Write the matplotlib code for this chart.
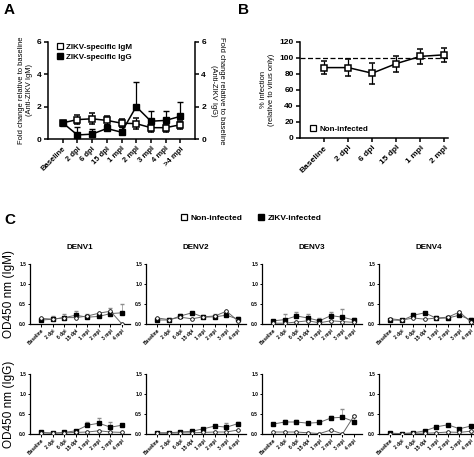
import matplotlib
matplotlib.use("Agg")
import matplotlib.pyplot as plt
from matplotlib.lines import Line2D
import numpy as np

plt.rcParams['font.family'] = ['Liberation Sans', 'DejaVu Sans']
plt.rcParams['font.weight'] = 'bold'
plt.rcParams['axes.linewidth'] = 1.1

# ---- panel A data
a_cats = ['Baseline', '2 dpi', '6 dpi', '15 dpi', '1 mpi', '2 mpi', '3 mpi', '4 mpi', '>4 mpi']
a_igm = [1.0, 1.2, 1.25, 1.15, 0.98, 0.95, 0.7, 0.7, 0.88]
a_igm_err = [0.0, 0.28, 0.35, 0.3, 0.25, 0.35, 0.25, 0.25, 0.25]
a_igg = [1.0, 0.25, 0.3, 0.65, 0.42, 2.0, 1.1, 1.15, 1.4]
a_igg_err = [0.0, 0.5, 0.3, 0.3, 0.3, 1.5, 0.65, 0.6, 0.9]

# ---- panel B data
b_cats = ['Baseline', '2 dpi', '6 dpi', '15 dpi', '1 mpi', '2 mpi']
b_vals = [88, 88, 81, 93, 102, 104]
b_err = [8, 11, 13, 10, 9, 9]

# ---- panel C data
c_cats = ['Baseline', '2 dpi', '6 dpi', '15 dpi', '1 mpi', '2 mpi', '3 mpi', '4 mpi']
c_titles = ['DENV1', 'DENV2', 'DENV3', 'DENV4']

igm_non = [
    [0.14, 0.12, 0.16, 0.16, 0.2, 0.27, 0.32, 0.0],
    [0.15, 0.11, 0.17, 0.13, 0.18, 0.2, 0.32, 0.08],
    [0.02, 0.02, 0.05, 0.08, 0.03, 0.08, 0.06, 0.04],
    [0.13, 0.1, 0.15, 0.12, 0.15, 0.17, 0.3, 0.05],
]
igm_zikv = [
    [0.1, 0.12, 0.16, 0.22, 0.17, 0.19, 0.26, 0.28],
    [0.1, 0.1, 0.2, 0.28, 0.17, 0.18, 0.22, 0.12],
    [0.08, 0.11, 0.2, 0.15, 0.08, 0.21, 0.17, 0.1],
    [0.1, 0.09, 0.22, 0.28, 0.14, 0.15, 0.22, 0.1],
]
igm_zikv_err = [
    [0.03, 0.08, 0.1, 0.1, 0.08, 0.08, 0.15, 0.22],
    [0.03, 0.05, 0.05, 0.02, 0.05, 0.08, 0.1, 0.05],
    [0.03, 0.14, 0.1, 0.1, 0.07, 0.09, 0.2, 0.05],
    [0.03, 0.03, 0.05, 0.02, 0.05, 0.05, 0.1, 0.05],
]
igg_non = [
    [0.03, 0.02, 0.03, 0.04, 0.05, 0.08, 0.05, 0.04],
    [0.02, 0.02, 0.03, 0.03, 0.04, 0.05, 0.05, 0.1],
    [0.05, 0.05, 0.05, 0.03, 0.01, 0.1, 0.0, 0.45],
    [0.01, 0.01, 0.02, 0.02, 0.03, 0.05, 0.04, 0.07],
]
igg_zikv = [
    [0.04, 0.02, 0.04, 0.08, 0.22, 0.27, 0.17, 0.22],
    [0.03, 0.03, 0.05, 0.07, 0.13, 0.2, 0.17, 0.26],
    [0.25, 0.3, 0.3, 0.27, 0.29, 0.4, 0.42, 0.31],
    [0.02, 0.01, 0.03, 0.08, 0.18, 0.23, 0.13, 0.2],
]
igg_zikv_err = [
    [0.01, 0.01, 0.02, 0.02, 0.08, 0.13, 0.12, 0.03],
    [0.01, 0.01, 0.02, 0.02, 0.03, 0.03, 0.1, 0.05],
    [0.03, 0.06, 0.05, 0.03, 0.03, 0.05, 0.2, 0.17],
    [0.01, 0.01, 0.01, 0.02, 0.03, 0.03, 0.03, 0.03],
]

W, H = 474, 457
fig = plt.figure(figsize=(W / 100, H / 100), dpi=100)


def box(l, t, r, b):
    return [l / W, 1 - b / H, (r - l) / W, (b - t) / H]


# ================= panel A
ax = fig.add_axes(box(48, 42, 195, 139))
x = np.arange(len(a_cats))
ax.errorbar(x, a_igm, yerr=a_igm_err, color='k', marker='s', mfc='white', mec='k',
            ms=4, lw=1.1, capsize=2, elinewidth=0.9, mew=1.1, zorder=3)
ax2 = ax.twinx()
ax2.errorbar(x, a_igg, yerr=[np.zeros(len(a_igg)), a_igg_err], color='k', marker='s', mfc='k',
             ms=4, lw=1.1, capsize=2, elinewidth=0.9, zorder=3)
for a in (ax, ax2):
    a.set_ylim(0, 6)
    a.set_yticks([0, 2, 4, 6])
    a.set_xlim(-1, 9)
    a.spines['top'].set_visible(False)
    a.tick_params(labelsize=6, width=1.1, length=3, pad=1.5)
ax.spines['right'].set_visible(False)
ax2.spines['left'].set_visible(False)
ax2.spines['bottom'].set_visible(False)
ax.set_xticks(x)
ax.set_xticklabels(a_cats, rotation=45, ha='right', rotation_mode='anchor', fontsize=5.5)
ax.set_ylabel('Fold change relative to baseline\n(Anti-ZIKV IgM)', fontsize=5.4, labelpad=3)
ax2.set_ylabel('Fold change relative to baseline\n(Anti-ZIKV IgG)', fontsize=5.4, rotation=270, labelpad=14)
hA = [Line2D([], [], ls='none', marker='s', mfc='white', mec='k', ms=5, mew=0.9),
      Line2D([], [], ls='none', marker='s', mfc='k', mec='k', ms=5)]
ax.legend(hA, ['ZIKV-specific IgM', 'ZIKV-specific IgG'], loc='upper left', frameon=False,
          fontsize=5.8, handletextpad=0.2, borderaxespad=0.1, labelspacing=0.35,
          handlelength=1.2, bbox_to_anchor=(0.02, 1.03))
fig.text(4 / W, 1 - 14 / H, 'A', fontsize=11, fontweight='bold')

# ================= panel B
bx = fig.add_axes(box(300, 42, 448, 138))
xb = np.arange(len(b_cats))
bx.errorbar(xb, b_vals, yerr=b_err, color='k', marker='s', mfc='white', mec='k',
            ms=4, lw=1.1, capsize=2, elinewidth=0.9, mew=1.1, zorder=3)
bx.axhline(100, color='k', ls='--', lw=0.9, dashes=(4, 2))
bx.set_ylim(0, 120)
bx.set_yticks(range(0, 121, 20))
bx.set_xlim(-1, 5.15)
bx.set_xticks(xb)
bx.set_xticklabels(b_cats, rotation=45, ha='right', rotation_mode='anchor', fontsize=5.5)
bx.spines['top'].set_visible(False)
bx.spines['right'].set_visible(False)
bx.tick_params(labelsize=6, width=1.1, length=3, pad=1.5)
bx.set_ylabel('% infection\n(relative to virus only)', fontsize=5.4, labelpad=3)
bx.legend([hA[0]], ['Non-infected'], loc='lower left', frameon=False, fontsize=5.8,
          handletextpad=0.2, borderaxespad=0.2, handlelength=1.2, bbox_to_anchor=(0.02, 0.0))
fig.text(238 / W, 1 - 14 / H, 'B', fontsize=11, fontweight='bold')

# ================= panel C
fig.text(4 / W, 1 - 224 / H, 'C', fontsize=11, fontweight='bold')
fig.legend(hA, ['Non-infected', 'ZIKV-infected'], loc='center', ncol=2, frameon=False,
           fontsize=6, handletextpad=0.2, columnspacing=1.6, handlelength=1.2,
           bbox_to_anchor=(250 / W, 1 - 218 / H))

lefts = [30, 146, 262, 379]
rows = [(264, 324, igm_non, igm_zikv, igm_zikv_err, 'OD450 nm (IgM)'),
        (374, 434, igg_non, igg_zikv, igg_zikv_err, 'OD450 nm (IgG)')]
xc = np.arange(len(c_cats))
for r, (top, bot, non, zik, zerr, ylab) in enumerate(rows):
    for i, l in enumerate(lefts):
        cx = fig.add_axes(box(l, top, l + 100, bot))
        cx.errorbar(xc, zik[i], yerr=[np.zeros(8), zerr[i]], color='0.4', marker='s',
                    mfc='k', mec='k', ms=2.4, lw=0.7, capsize=1.2, elinewidth=0.5,
                    ecolor='0.55', zorder=3)
        cx.plot(xc, non[i], color='0.4', marker='o', mfc='white', mec='k', ms=2.6,
                lw=0.7, mew=0.6, zorder=4)
        cx.set_ylim(0, 1.5)
        cx.set_yticks([0, 0.5, 1.0, 1.5])
        cx.set_yticklabels(['0.0', '0.5', '1.0', '1.5'])
        cx.set_xlim(-1, 7.7)
        cx.set_xticks(xc)
        cx.set_xticklabels(c_cats, rotation=45, ha='right', rotation_mode='anchor', fontsize=3.0)
        cx.spines['top'].set_visible(False)
        cx.spines['right'].set_visible(False)
        for s in ('left', 'bottom'):
            cx.spines[s].set_linewidth(0.9)
        cx.tick_params(labelsize=3.5, width=0.7, length=1.8, pad=1)
        if r == 0:
            cx.set_title(c_titles[i], fontsize=5.8, fontweight='bold', pad=11)
        if i == 0:
            cx.set_ylabel(ylab, fontsize=8.5, labelpad=3)

fig.savefig('out.png', dpi=100)
